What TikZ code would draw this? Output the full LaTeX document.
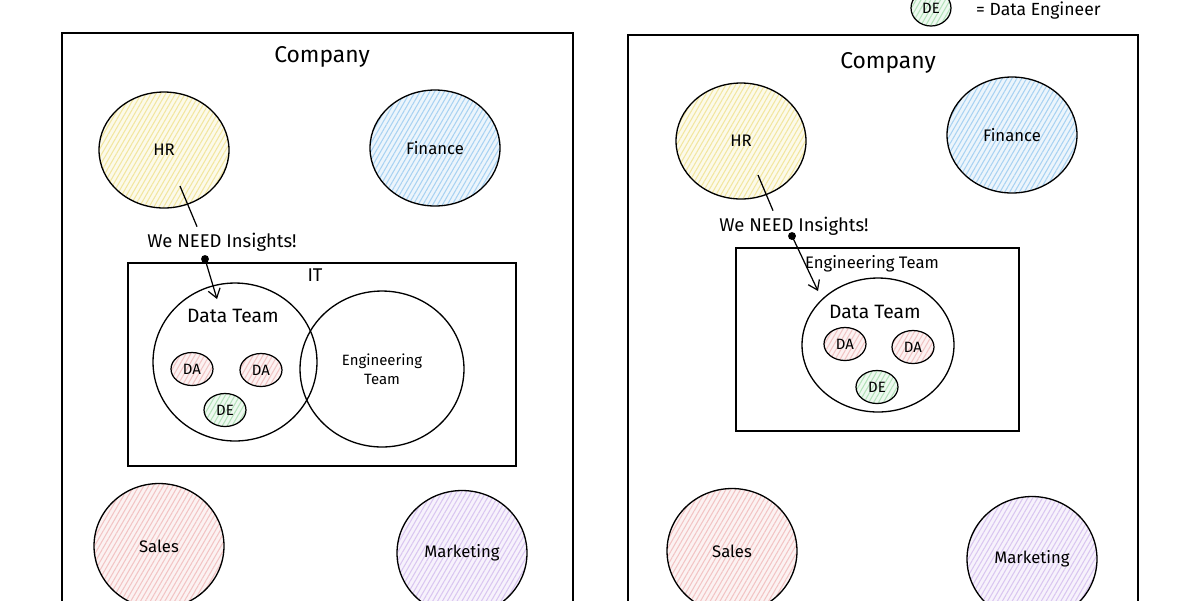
\documentclass[tikz,border=0pt]{standalone}
\usepackage{fontspec}
\setmainfont{Fira Sans}
\usetikzlibrary{shapes.geometric, patterns.meta, arrows.meta}

\definecolor{hryel}{HTML}{F2E6A0}
\definecolor{finblue}{HTML}{A8D2F2}
\definecolor{salespink}{HTML}{F2C4C4}
\definecolor{mktpurple}{HTML}{D9C6F0}
\definecolor{dapink}{HTML}{F0C4C4}
\definecolor{degreen}{HTML}{B4E2BA}

\begin{document}
\begin{tikzpicture}[x=0.02cm, y=-0.02cm,
	hatch/.style={preaction={fill=#1!22}, pattern={Lines[angle=60,distance=2.4pt,line width=0.6pt]}, pattern color=#1},
	dept/.style={ellipse, draw, line width=0.75pt, minimum width=2.6cm, minimum height=2.32cm, font=\fontsize{9.5}{11}\selectfont, hatch=#1},
	member/.style={ellipse, draw, line width=0.7pt, minimum width=0.84cm, minimum height=0.66cm, inner sep=0pt, font=\fontsize{8.5}{9}\selectfont, hatch=#1},
	team/.style={ellipse, draw, line width=0.75pt, minimum width=3.28cm, minimum height=3.16cm},
	box/.style={draw, line width=0.75pt},
	dot/.style={circle, fill, inner sep=0pt, minimum size=4.5pt},
	ask/.style={-{Straight Barb[length=5pt,width=7pt]}, line width=0.7pt},
	title/.style={font=\fontsize{13}{15}\selectfont},
	lbl/.style={font=\fontsize{10.5}{12}\selectfont}]
	\useasboundingbox (0,0) rectangle (1200,600);
	\clip (0,0) rectangle (1200,600);

	\node[member=degreen, minimum width=0.8cm, minimum height=0.72cm] (kde) at (931,8) {DE};
	\node[lbl, font=\fontsize{10}{12}\selectfont, anchor=west] (kdetxt) at (970,11) {= Data Engineer};

	\draw [line width=1pt] (62,33) rectangle (573,640)  (628,35) rectangle (1138,640);

	\node[title] (lco) at (322,57) {Company};
	\node[dept=hryel] (lhr) at (164,150) {HR};
	\node[dept=finblue] (lfin) at (435,148) {Finance};
	\node[dept=salespink, minimum height=2.5cm] (lsal) at (159,546) {Sales};
	\node[dept=mktpurple, minimum height=2.5cm] (lmkt) at (462,553) {Marketing};
	\node[lbl] (lneed) at (222,242) {We NEED Insights!};
	\node[box, minimum width=7.76cm, minimum height=4.06cm] (lit) at (322,364.5) {};
	\node[lbl] (litlbl) at (315,275) {IT};
	\node[team] (ldata) at (235,362) {};
	\node[team, minimum height=3.12cm, align=center, font=\fontsize{8.5}{11}\selectfont] (leng) at (382,369) {Engineering\\Team};
	\node[lbl, font=\fontsize{11}{13}\selectfont] (ldatalbl) at (233,316) {Data Team};
	\node[member=dapink] (lda1) at (192,369) {DA};
	\node[member=dapink] (lda2) at (261,370) {DA};
	\node[member=degreen] (lde) at (225,410) {DE};
	\draw [line width=0.7pt] (lhr.center) ++(16,36) -- ([xshift=-0.5cm]lneed.north);
	\node[dot] (ldot) at (205,259) {};
	\coordinate (ltip) at (217,299);
	\draw [ask] (ldot.center) -- (ltip);

	\node[title] (rco) at (888,63) {Company};
	\node[dept=hryel] (rhr) at (741,141) {HR};
	\node[dept=finblue] (rfin) at (1012,135) {Finance};
	\node[dept=salespink, minimum height=2.5cm] (rsal) at (732,551) {Sales};
	\node[dept=mktpurple, minimum height=2.5cm] (rmkt) at (1032,559) {Marketing};
	\node[lbl] (rneed) at (794,226) {We NEED Insights!};
	\node[box, minimum width=5.66cm, minimum height=3.66cm] (reng) at (877.5,339.5) {};
	\node[lbl, font=\fontsize{9.5}{11}\selectfont] (rengl) at (872,264) {Engineering Team};
	\node[team, minimum width=3.04cm, minimum height=2.68cm] (rdata) at (878,345) {};
	\node[lbl, font=\fontsize{11}{13}\selectfont] (rdatalbl) at (875,312) {Data Team};
	\node[member=dapink] (rda1) at (845,344) {DA};
	\node[member=dapink] (rda2) at (913,347) {DA};
	\node[member=degreen] (rde) at (877,387) {DE};
	\draw [line width=0.7pt] (rhr.center) ++(17,34) -- ([xshift=-0.42cm]rneed.north);
	\node[dot] (rdot) at (792,236) {};
	\coordinate (rtip) at (818,291);
	\draw [ask] (rdot.center) -- (rtip);
\end{tikzpicture}
\end{document}
